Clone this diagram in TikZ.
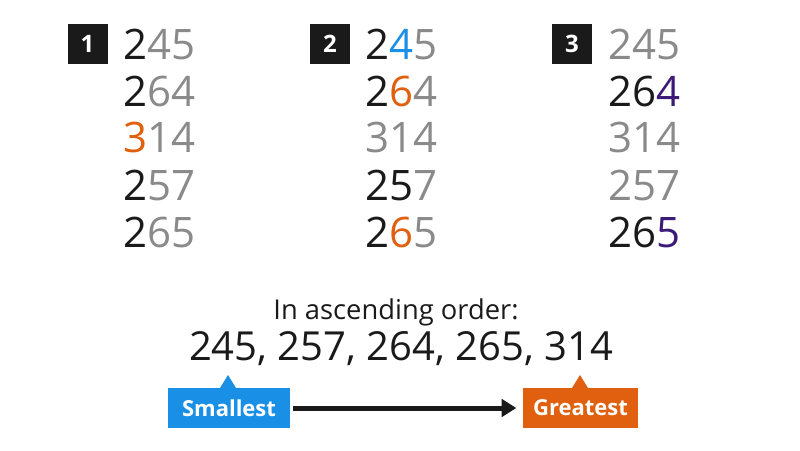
\documentclass[tikz,border=0pt]{standalone}
\usepackage{fontspec}
\setmainfont{Open Sans}
\usepackage{xcolor}
\usetikzlibrary{arrows.meta}

\definecolor{numgrey}{HTML}{8A8A8A}
\definecolor{numblack}{HTML}{1A1A1A}
\definecolor{numblue}{HTML}{1A8FE6}
\definecolor{numorange}{HTML}{E0600F}
\definecolor{numpurple}{HTML}{3C1A78}

\newcommand{\gr}[1]{\textcolor{numgrey}{#1}}

\begin{document}
\begin{tikzpicture}[x=0.75pt,y=-0.75pt,
  every node/.style={inner sep=0pt,outer sep=0pt},
  numtext/.style={anchor=base west,font=\fontsize{31.5}{31.5}\selectfont,text=numblack},
  badge/.style={fill=numblack,minimum width=30pt,minimum height=30pt,text=white,font=\fontsize{18}{18}\selectfont\bfseries},
  tagbox/.style={minimum height=30pt,text=white,font=\fontsize{16.5}{16.5}\selectfont\bfseries}]
\useasboundingbox (0,0) rectangle (800,450);

% step 1: hundreds
\node [badge] (badgeA) at (87.5,44) {1};
\node [numtext] (aA) at (123,59) {2\gr{45}};
\node [numtext] (aB) at (123,106) {2\gr{64}};
\node [numtext] (aC) at (123,152) {\textcolor{numorange}{3}\gr{14}};
\node [numtext] (aD) at (123,200) {2\gr{57}};
\node [numtext] (aE) at (123,247) {2\gr{65}};

% step 2: tens
\node [badge] (badgeB) at (330,44) {2};
\node [numtext] (bA) at (365,59) {2\textcolor{numblue}{4}\gr{5}};
\node [numtext] (bB) at (365,106) {2\textcolor{numorange}{6}\gr{4}};
\node [numtext] (bC) at (365,152) {\gr{314}};
\node [numtext] (bD) at (365,200) {25\gr{7}};
\node [numtext] (bE) at (365,247) {2\textcolor{numorange}{6}\gr{5}};

% step 3: ones
\node [badge] (badgeC) at (572,44) {3};
\node [numtext] (cA) at (608,59) {\gr{245}};
\node [numtext] (cB) at (608,106) {26\textcolor{numpurple}{4}};
\node [numtext] (cC) at (608,152) {\gr{314}};
\node [numtext] (cD) at (608,200) {\gr{257}};
\node [numtext] (cE) at (608,247) {26\textcolor{numpurple}{5}};

% result
\node [anchor=base,font=\fontsize{20.5}{20.5}\selectfont,text=numblack] (title) at (396,319) {In ascending order:};
\node [anchor=base,font=\fontsize{30}{30}\selectfont,text=numblack] (order) at (401,360) {245, 257, 264, 265, 314};

\fill [numblue] (220,388) -- (228,375) -- (236,388) -- cycle;
\node [tagbox,fill=numblue,minimum width=91.5pt] (smallest) at (229,408) {Smallest};
\fill [numorange] (572,388) -- (580,375) -- (588,388) -- cycle;
\node [tagbox,fill=numorange,minimum width=86.25pt] (greatest) at (580.5,408) {Greatest};

\draw [numblack,line width=3.75pt,-{Triangle[length=11pt,width=13pt]}] ([xshift=2pt]smallest.east) -- ([xshift=-5pt]greatest.west);
\end{tikzpicture}
\end{document}
